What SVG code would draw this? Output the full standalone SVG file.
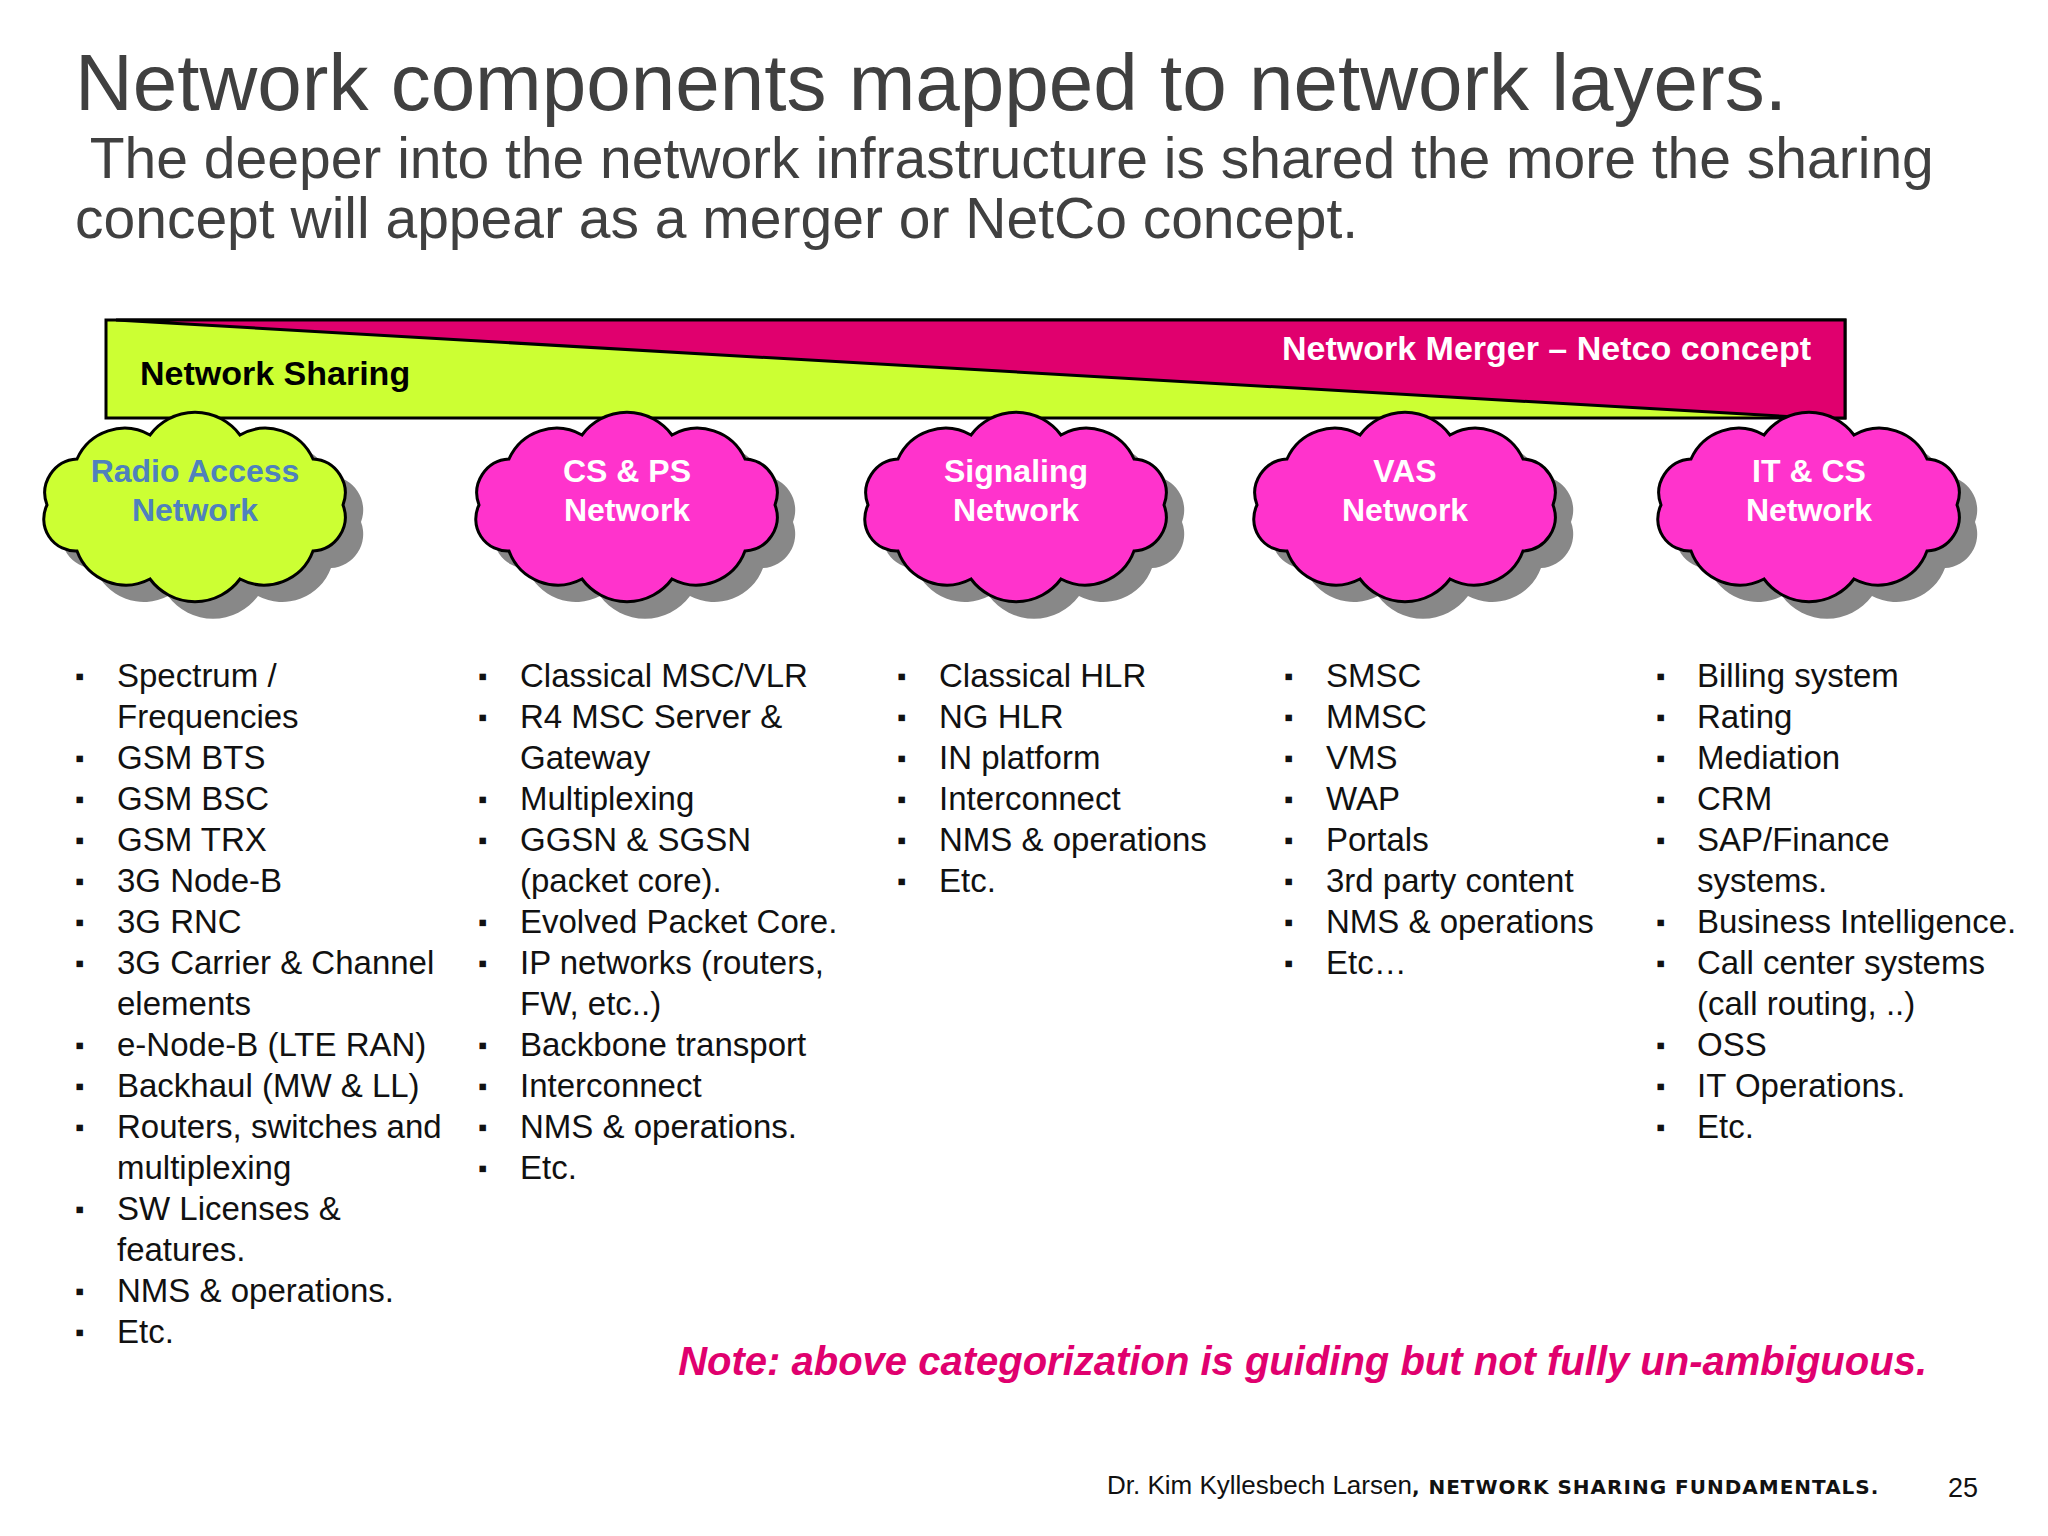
<svg xmlns="http://www.w3.org/2000/svg" width="2048" height="1536" viewBox="0 0 2048 1536">
<style>
.t{font-family:"Liberation Sans",Arial,sans-serif;fill:#404040}
.b{font-family:"Liberation Sans",Arial,sans-serif;font-size:33px;fill:#111}
.bl{font-family:"Liberation Sans",Arial,sans-serif;font-size:26px;fill:#111}
.cl{font-family:"Liberation Sans",Arial,sans-serif;font-size:32px;font-weight:bold;text-anchor:middle;fill:#fff}
.cloud{stroke:#000;stroke-width:3}
</style>
<defs>
<path id="c" d="M148,0 A34,34 0 0 1 118,46 A52,52 0 0 1 45,74 A56,56 0 0 1 -45,74 A52,52 0 0 1 -118,46 A32,32 0 0 1 -148,0 A34,34 0 0 1 -118,-46 A52,52 0 0 1 -45,-70 A56,56 0 0 1 45,-70 A52,52 0 0 1 118,-46 A34,34 0 0 1 148,0 Z"/>
</defs>
<rect width="2048" height="1536" fill="#fff"/>
<text class="t" x="75" y="110" font-size="80">Network components mapped to network layers.</text>
<text class="t" x="75" y="178" font-size="57" xml:space="preserve"> The deeper into the network infrastructure is shared the more the sharing</text>
<text class="t" x="75" y="238" font-size="57">concept will appear as a merger or NetCo concept.</text>
<g id="bar">
<rect x="106" y="320" width="1739" height="98" fill="#CCFF33" stroke="#000" stroke-width="3"/>
<polygon points="116,320 1845,320 1845,418 1814,418" fill="#E0006E" stroke="#000" stroke-width="3"/>
<text x="140" y="385" font-family="Liberation Sans,Arial,sans-serif" font-weight="bold" font-size="34" fill="#000">Network Sharing</text>
<text x="1811" y="360" font-family="Liberation Sans,Arial,sans-serif" font-weight="bold" font-size="34" fill="#fff" text-anchor="end">Network Merger – Netco concept</text>
</g>
<g id="cloud-ran">
<use href="#c" transform="translate(213,522)" fill="#888"/>
<use href="#c" class="cloud" transform="translate(195,505)" fill="#CCFF33"/>
<text class="cl" style="fill:#4F81BD" x="195" y="482">Radio Access<tspan x="195" y="521">Network</tspan></text>
</g>
<g id="cloud-cs">
<use href="#c" transform="translate(645,522)" fill="#888"/>
<use href="#c" class="cloud" transform="translate(627,505)" fill="#FF33CC"/>
<text class="cl" x="627" y="482">CS &amp; PS<tspan x="627" y="521">Network</tspan></text>
</g>
<g id="cloud-sig">
<use href="#c" transform="translate(1034,522)" fill="#888"/>
<use href="#c" class="cloud" transform="translate(1016,505)" fill="#FF33CC"/>
<text class="cl" x="1016" y="482">Signaling<tspan x="1016" y="521">Network</tspan></text>
</g>
<g id="cloud-vas">
<use href="#c" transform="translate(1423,522)" fill="#888"/>
<use href="#c" class="cloud" transform="translate(1405,505)" fill="#FF33CC"/>
<text class="cl" x="1405" y="482">VAS<tspan x="1405" y="521">Network</tspan></text>
</g>
<g id="cloud-it">
<use href="#c" transform="translate(1827,522)" fill="#888"/>
<use href="#c" class="cloud" transform="translate(1809,505)" fill="#FF33CC"/>
<text class="cl" x="1809" y="482">IT &amp; CS<tspan x="1809" y="521">Network</tspan></text>
</g>
<g id="list1">
<text class="b" x="117" y="687">Spectrum /</text><text class="b" x="117" y="728">Frequencies</text><text class="b" x="117" y="769">GSM BTS</text><text class="b" x="117" y="810">GSM BSC</text><text class="b" x="117" y="851">GSM TRX</text><text class="b" x="117" y="892">3G Node-B</text><text class="b" x="117" y="933">3G RNC</text><text class="b" x="117" y="974">3G Carrier &amp; Channel</text><text class="b" x="117" y="1015">elements</text><text class="b" x="117" y="1056">e-Node-B (LTE RAN)</text><text class="b" x="117" y="1097">Backhaul (MW &amp; LL)</text><text class="b" x="117" y="1138">Routers, switches and</text><text class="b" x="117" y="1179">multiplexing</text><text class="b" x="117" y="1220">SW Licenses &amp;</text><text class="b" x="117" y="1261">features.</text><text class="b" x="117" y="1302">NMS &amp; operations.</text><text class="b" x="117" y="1343">Etc.</text>
<text class="bl" x="75" y="685">▪</text><text class="bl" x="75" y="767">▪</text><text class="bl" x="75" y="808">▪</text><text class="bl" x="75" y="849">▪</text><text class="bl" x="75" y="890">▪</text><text class="bl" x="75" y="931">▪</text><text class="bl" x="75" y="972">▪</text><text class="bl" x="75" y="1054">▪</text><text class="bl" x="75" y="1095">▪</text><text class="bl" x="75" y="1136">▪</text><text class="bl" x="75" y="1218">▪</text><text class="bl" x="75" y="1300">▪</text><text class="bl" x="75" y="1341">▪</text>
</g>
<g id="list2">
<text class="b" x="520" y="687">Classical MSC/VLR</text><text class="b" x="520" y="728">R4 MSC Server &amp;</text><text class="b" x="520" y="769">Gateway</text><text class="b" x="520" y="810">Multiplexing</text><text class="b" x="520" y="851">GGSN &amp; SGSN</text><text class="b" x="520" y="892">(packet core).</text><text class="b" x="520" y="933">Evolved Packet Core.</text><text class="b" x="520" y="974">IP networks (routers,</text><text class="b" x="520" y="1015">FW, etc..)</text><text class="b" x="520" y="1056">Backbone transport</text><text class="b" x="520" y="1097">Interconnect</text><text class="b" x="520" y="1138">NMS &amp; operations.</text><text class="b" x="520" y="1179">Etc.</text>
<text class="bl" x="478" y="685">▪</text><text class="bl" x="478" y="726">▪</text><text class="bl" x="478" y="808">▪</text><text class="bl" x="478" y="849">▪</text><text class="bl" x="478" y="931">▪</text><text class="bl" x="478" y="972">▪</text><text class="bl" x="478" y="1054">▪</text><text class="bl" x="478" y="1095">▪</text><text class="bl" x="478" y="1136">▪</text><text class="bl" x="478" y="1177">▪</text>
</g>
<g id="list3">
<text class="b" x="939" y="687">Classical HLR</text><text class="b" x="939" y="728">NG HLR</text><text class="b" x="939" y="769">IN platform</text><text class="b" x="939" y="810">Interconnect</text><text class="b" x="939" y="851">NMS &amp; operations</text><text class="b" x="939" y="892">Etc.</text>
<text class="bl" x="897" y="685">▪</text><text class="bl" x="897" y="726">▪</text><text class="bl" x="897" y="767">▪</text><text class="bl" x="897" y="808">▪</text><text class="bl" x="897" y="849">▪</text><text class="bl" x="897" y="890">▪</text>
</g>
<g id="list4">
<text class="b" x="1326" y="687">SMSC</text><text class="b" x="1326" y="728">MMSC</text><text class="b" x="1326" y="769">VMS</text><text class="b" x="1326" y="810">WAP</text><text class="b" x="1326" y="851">Portals</text><text class="b" x="1326" y="892">3rd party content</text><text class="b" x="1326" y="933">NMS &amp; operations</text><text class="b" x="1326" y="974">Etc…</text>
<text class="bl" x="1284" y="685">▪</text><text class="bl" x="1284" y="726">▪</text><text class="bl" x="1284" y="767">▪</text><text class="bl" x="1284" y="808">▪</text><text class="bl" x="1284" y="849">▪</text><text class="bl" x="1284" y="890">▪</text><text class="bl" x="1284" y="931">▪</text><text class="bl" x="1284" y="972">▪</text>
</g>
<g id="list5">
<text class="b" x="1697" y="687">Billing system</text><text class="b" x="1697" y="728">Rating</text><text class="b" x="1697" y="769">Mediation</text><text class="b" x="1697" y="810">CRM</text><text class="b" x="1697" y="851">SAP/Finance</text><text class="b" x="1697" y="892">systems.</text><text class="b" x="1697" y="933">Business Intelligence.</text><text class="b" x="1697" y="974">Call center systems</text><text class="b" x="1697" y="1015">(call routing, ..)</text><text class="b" x="1697" y="1056">OSS</text><text class="b" x="1697" y="1097">IT Operations.</text><text class="b" x="1697" y="1138">Etc.</text>
<text class="bl" x="1656" y="685">▪</text><text class="bl" x="1656" y="726">▪</text><text class="bl" x="1656" y="767">▪</text><text class="bl" x="1656" y="808">▪</text><text class="bl" x="1656" y="849">▪</text><text class="bl" x="1656" y="931">▪</text><text class="bl" x="1656" y="972">▪</text><text class="bl" x="1656" y="1054">▪</text><text class="bl" x="1656" y="1095">▪</text><text class="bl" x="1656" y="1136">▪</text>
</g>
<text x="1927" y="1375" text-anchor="end" font-family="Liberation Sans,Arial,sans-serif" font-weight="bold" font-style="italic" font-size="40" fill="#E0006E">Note: above categorization is guiding but not fully un-ambiguous.</text>
<text x="1107" y="1494" font-family="Liberation Sans,Arial,sans-serif" font-size="26" fill="#111">Dr. Kim Kyllesbech Larsen<tspan font-weight="bold" font-family="DejaVu Sans,sans-serif" font-size="20" letter-spacing="1">, NETWORK SHARING FUNDAMENTALS.</tspan></text>
<text x="1948" y="1497" font-family="Liberation Sans,Arial,sans-serif" font-size="27" fill="#111">25</text>
</svg>
